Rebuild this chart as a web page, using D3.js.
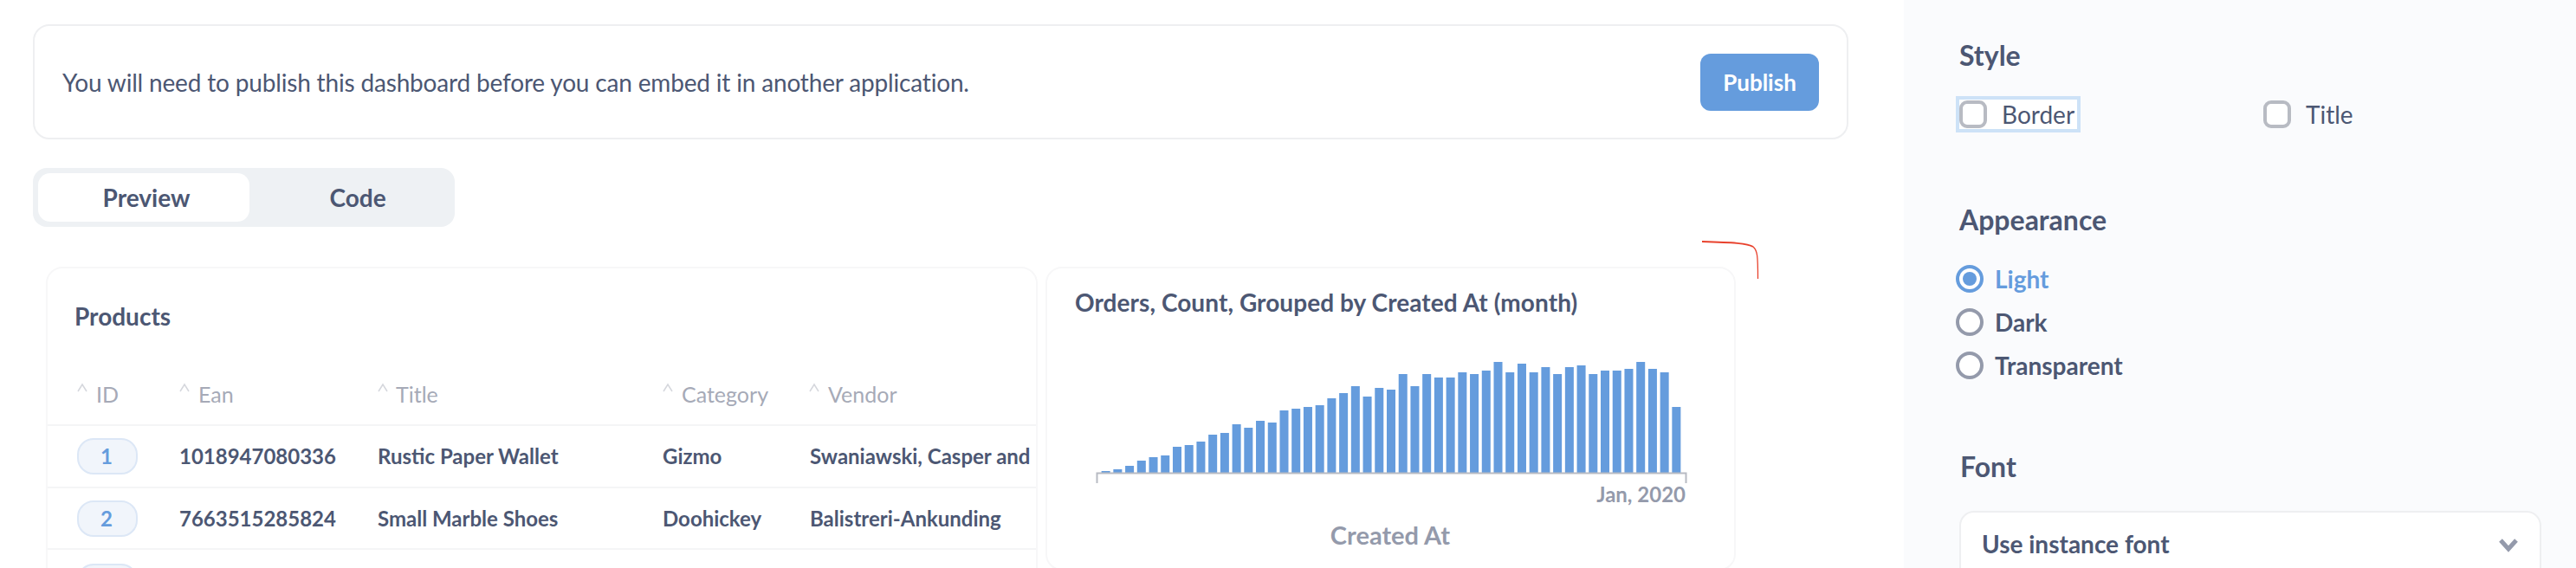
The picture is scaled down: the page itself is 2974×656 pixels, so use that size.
<!DOCTYPE html>
<html>
<head>
<meta charset="utf-8">
<script src="https://cdn.jsdelivr.net/npm/d3@7"></script>
<style>
  html, body { margin: 0; padding: 0; background: #fff; overflow: hidden; }
  text { font-family: Lato, "Open Sans", sans-serif; }
</style>
</head>
<body>
<script>
// chart data
const months = [
  "2016-04","2016-05","2016-06","2016-07","2016-08","2016-09","2016-10","2016-11","2016-12",
  "2017-01","2017-02","2017-03","2017-04","2017-05","2017-06","2017-07","2017-08","2017-09","2017-10","2017-11","2017-12",
  "2018-01","2018-02","2018-03","2018-04","2018-05","2018-06","2018-07","2018-08","2018-09","2018-10","2018-11","2018-12",
  "2019-01","2019-02","2019-03","2019-04","2019-05","2019-06","2019-07","2019-08","2019-09","2019-10","2019-11","2019-12",
  "2020-01","2020-02","2020-03","2020-04"
];
const orderCounts = [
  8, 16, 32, 56, 72, 80, 120, 128, 144,
  176, 184, 224, 208, 240, 232, 288, 296, 304, 312, 344, 368,
  400, 352, 392, 384, 456, 400, 456, 440, 440, 464, 456,
  472, 512, 464, 504, 464, 488, 456, 488, 496, 456, 472, 472, 480,
  512, 480, 464, 304
];
const xTickLabels = ["Jan, 2020"];
const xAxisTitle = "Created At";
const yMax = 512;

// rest of the dashboard
const tableColumns = ["ID", "Ean", "Title", "Category", "Vendor"];
const tableRows = [
  ["1", "1018947080336", "Rustic Paper Wallet", "Gizmo", "Swaniawski, Casper and Hilll"],
  ["2", "7663515285824", "Small Marble Shoes", "Doohickey", "Balistreri-Ankunding"]
];
const styleOptions = ["Border", "Title"];
const appearanceOptions = ["Light", "Dark", "Transparent"];

const dark = "#4c5773", gray = "#949aab", blue = "#659cdd", line = "#eeeff1";

const svg = d3.select("body").append("svg")
  .attr("width", 2974)
  .attr("height", 656)
  .style("display", "block");

function label(str, x, y, size, weight, color, anchor) {
  return svg.append("text")
    .attr("x", x)
    .attr("y", y)
    .attr("font-size", size)
    .attr("font-weight", weight)
    .attr("fill", color)
    .attr("text-anchor", anchor || "start")
    .text(str);
}

function box(x, y, w, h, r, fill, stroke, sw) {
  return svg.append("rect")
    .attr("x", x)
    .attr("y", y)
    .attr("width", w)
    .attr("height", h)
    .attr("rx", r)
    .attr("fill", fill)
    .attr("stroke", stroke || "none")
    .attr("stroke-width", sw || 0);
}

// publish notice
box(39, 29, 2094, 131, 18, "#fff", line, 2);
label("You will need to publish this dashboard before you can embed it in another application.", 72, 106, 28, 400, dark)
  .attr("letter-spacing", -0.17);
box(1963, 62, 137, 66, 12, blue);
label("Publish", 2031.5, 105, 26, 700, "#fff", "middle");

// preview / code tabs
box(38, 194, 487, 68, 16, "#eef1f4");
box(44, 200, 244, 56, 14, "#fff");
label("Preview", 169, 239, 28, 700, dark, "middle");
label("Code", 413, 239, 28, 700, dark, "middle");

// table card
box(54, 309, 1143, 400, 18, "#fff", "#f7f7f8", 2);
label("Products", 86, 376, 28, 700, dark);

const colX = [111, 229, 457, 787, 956];
const caretX = [90, 208, 437, 766, 935];
tableColumns.forEach((c, i) => {
  label(c, colX[i], 465, 25, 400, "#a6aab7");
  svg.append("path")
    .attr("d", `M${caretX[i]},452 l5,-8 l5,8`)
    .attr("fill", "none")
    .attr("stroke", "#d5d7dd")
    .attr("stroke-width", 1.5);
});

[491, 563, 634].forEach(y => {
  svg.append("line")
    .attr("x1", 55)
    .attr("x2", 1196)
    .attr("y1", y)
    .attr("y2", y)
    .attr("stroke", "#f4f5f6")
    .attr("stroke-width", 2);
});

const clip = svg.append("clipPath").attr("id", "table-clip");
clip.append("rect").attr("x", 54).attr("y", 300).attr("width", 1142).attr("height", 360);

const rowX = [123, 207, 436, 765, 935];
tableRows.forEach((row, r) => {
  const base = 536 + r * 72;
  box(90, base - 29, 68, 40, 18, "#f1f5fb", "#dce7f6", 2);
  label(row[0], rowX[0], base, 24, 700, blue, "middle");
  for (let i = 1; i < row.length; i++) {
    label(row[i], rowX[i], base, 24, 700, dark).attr("clip-path", "url(#table-clip)");
  }
});
box(90, 652, 68, 40, 18, "#f1f5fb", "#dce7f6", 2);

// chart card
box(1208, 309, 795, 349, 18, "#fff", "#f7f7f8", 2);
label("Orders, Count, Grouped by Created At (month)", 1241, 360, 28, 700, dark)
  .attr("letter-spacing", 0.07);

const x = d3.scaleBand()
  .domain(months)
  .range([1266, 1946])
  .paddingInner(0.27)
  .paddingOuter(0.41);

const y = d3.scaleLinear()
  .domain([0, yMax])
  .range([546, 418]);

svg.append("g")
  .selectAll("rect")
  .data(months)
  .enter()
  .append("rect")
  .attr("x", d => x(d))
  .attr("y", (d, i) => y(orderCounts[i]))
  .attr("width", x.bandwidth())
  .attr("height", (d, i) => y(0) - y(orderCounts[i]))
  .attr("fill", blue);

const xAxis = svg.append("g")
  .attr("transform", `translate(0,${y(0)})`)
  .call(d3.axisBottom(x).tickValues([]).tickSizeOuter(12));
xAxis.select(".domain")
  .attr("stroke", "#b8bbc3")
  .attr("stroke-width", 2)
  .attr("fill", "none");

label(xTickLabels[0], 1946, 580, 24, 700, gray, "end");
label(xAxisTitle, 1605, 629, 29, 700, gray, "middle");

// stray red line in the screenshot
svg.append("path")
  .attr("d", "M1965,279 C2000,280 2018,281 2024,285")
  .attr("fill", "none")
  .attr("stroke", "#e8412c")
  .attr("stroke-width", 2);
svg.append("path")
  .attr("d", "M2024,285 C2029,289 2029.5,296 2029.5,322")
  .attr("fill", "none")
  .attr("stroke", "#e8412c")
  .attr("stroke-width", 1.3);

// settings panel
svg.append("rect")
  .attr("x", 2198)
  .attr("y", 0)
  .attr("width", 776)
  .attr("height", 656)
  .attr("fill", "#fafbfd");

label("Style", 2262, 76, 32, 700, dark);
box(2260, 113, 140, 38, 0, "#fff", "#cde2f7", 4);
[2264, 2615].forEach((cx, i) => {
  box(cx, 118, 28, 28, 7, "#fff", "#b8bbc3", 4);
  label(styleOptions[i], cx + 47, 143, 28, 400, dark);
});

label("Appearance", 2262, 266, 32, 700, dark);
appearanceOptions.forEach((opt, i) => {
  const cy = 322 + i * 50;
  svg.append("circle")
    .attr("cx", 2274)
    .attr("cy", cy)
    .attr("r", 14)
    .attr("fill", "#fff")
    .attr("stroke", i === 0 ? blue : gray)
    .attr("stroke-width", 4);
  if (i === 0) {
    svg.append("circle")
      .attr("cx", 2274)
      .attr("cy", cy)
      .attr("r", 8)
      .attr("fill", blue);
  }
  label(opt, 2303, cy + 11, 28, 700, i === 0 ? blue : dark);
});

label("Font", 2263, 551, 32, 700, dark);
box(2263, 591, 670, 90, 16, "#fff", line, 2);
label("Use instance font", 2288, 639, 28, 700, dark);
svg.append("path")
  .attr("d", "M2887,624 L2896,634 L2905,624")
  .attr("fill", "none")
  .attr("stroke", gray)
  .attr("stroke-width", 5);
</script>
</body>
</html>
